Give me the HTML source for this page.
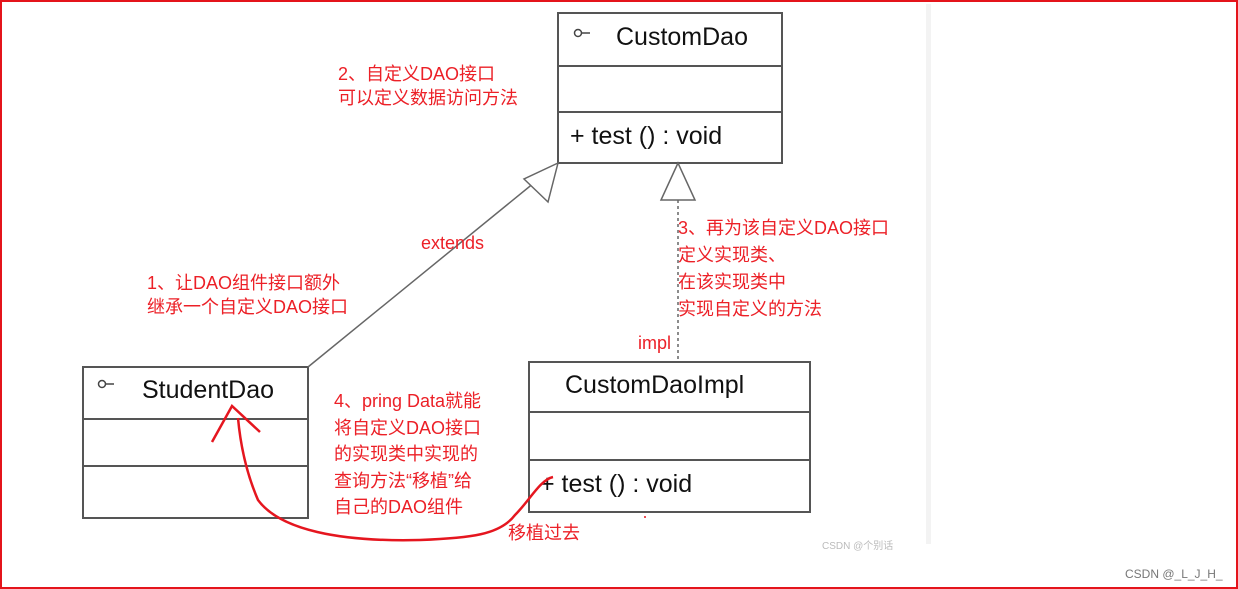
<!DOCTYPE html>
<html><head><meta charset="utf-8"><style>
body{margin:0;width:1238px;height:589px;background:#fff;position:relative;overflow:hidden;font-family:"Liberation Sans","Noto Sans CJK SC",sans-serif}
.frame{position:absolute;left:0;top:0;width:1234px;height:585px;border:2px solid #e4141b}
.t{position:absolute;color:#ec2027;font-size:18px;line-height:24px;white-space:nowrap}
</style></head><body>
<div class="frame"></div>
<div style="position:absolute;left:926px;top:4px;width:5px;height:540px;background:#f3f3f3"></div>
<svg width="1238" height="589" style="position:absolute;left:0;top:0" font-family="Liberation Sans, sans-serif">
<g fill="#fff" stroke="#555" stroke-width="2">
<rect x="558" y="13" width="224" height="150"/><line x1="558" y1="66" x2="782" y2="66"/><line x1="558" y1="112" x2="782" y2="112"/>
<rect x="83" y="367" width="225" height="151"/><line x1="83" y1="419" x2="308" y2="419"/><line x1="83" y1="466" x2="308" y2="466"/>
<rect x="529" y="362" width="281" height="150"/><line x1="529" y1="412" x2="810" y2="412"/><line x1="529" y1="460" x2="810" y2="460"/>
</g>
<g stroke="#666" stroke-width="1.5" fill="#fff">
<line x1="308" y1="367" x2="540" y2="178"/>
<polygon points="558,163 524,179 548,202"/>
<line x1="678" y1="200" x2="678" y2="362" stroke-dasharray="3,3"/>
<polygon points="678,163 661,200 695,200"/>
</g>
<g fill="none" stroke="#444" stroke-width="1.5"><circle cx="578" cy="33" r="3.5"/><line x1="582" y1="33" x2="590" y2="33"/>
<circle cx="102" cy="384" r="3.5"/><line x1="106" y1="384" x2="114" y2="384"/></g>
<g font-size="25" fill="#111">
<text x="616" y="45">CustomDao</text>
<text x="570" y="144">+   test ()   : void</text>
<text x="142" y="398">StudentDao</text>
<text x="565" y="393">CustomDaoImpl</text>
<text x="540" y="492">+   test ()   : void</text>
</g>
<path d="M553 477 C540 480 530 500 515 515 C500 535 470 538 420 540 C340 542 280 530 258 500 C245 470 240 440 238 418" fill="none" stroke="#e5161f" stroke-width="2.5"/>
<path d="M212 442 L232 406 L260 432" fill="none" stroke="#e5161f" stroke-width="2.5"/>
<circle cx="645" cy="517" r="1" fill="#e5161f"/>
<text x="822" y="549" font-size="10" fill="#bbb">CSDN @个别话</text>
<text x="1125" y="578" font-size="12" fill="#777">CSDN @_L_J_H_</text>
</svg>
<div class="t" style="left:338px;top:62px">2、自定义DAO接口<br>可以定义数据访问方法</div>
<div class="t" style="left:421px;top:231px">extends</div>
<div class="t" style="left:147px;top:271px">1、让DAO组件接口额外<br>继承一个自定义DAO接口</div>
<div class="t" style="left:678px;top:215px;line-height:27px">3、再为该自定义DAO接口<br>定义实现类、<br>在该实现类中<br>实现自定义的方法</div>
<div class="t" style="left:638px;top:331px">impl</div>
<div class="t" style="left:334px;top:388px;line-height:26.5px">4、pring Data就能<br>将自定义DAO接口<br>的实现类中实现的<br>查询方法“移植”给<br>自己的DAO组件</div>
<div class="t" style="left:508px;top:521px">移植过去</div>
</body></html>
